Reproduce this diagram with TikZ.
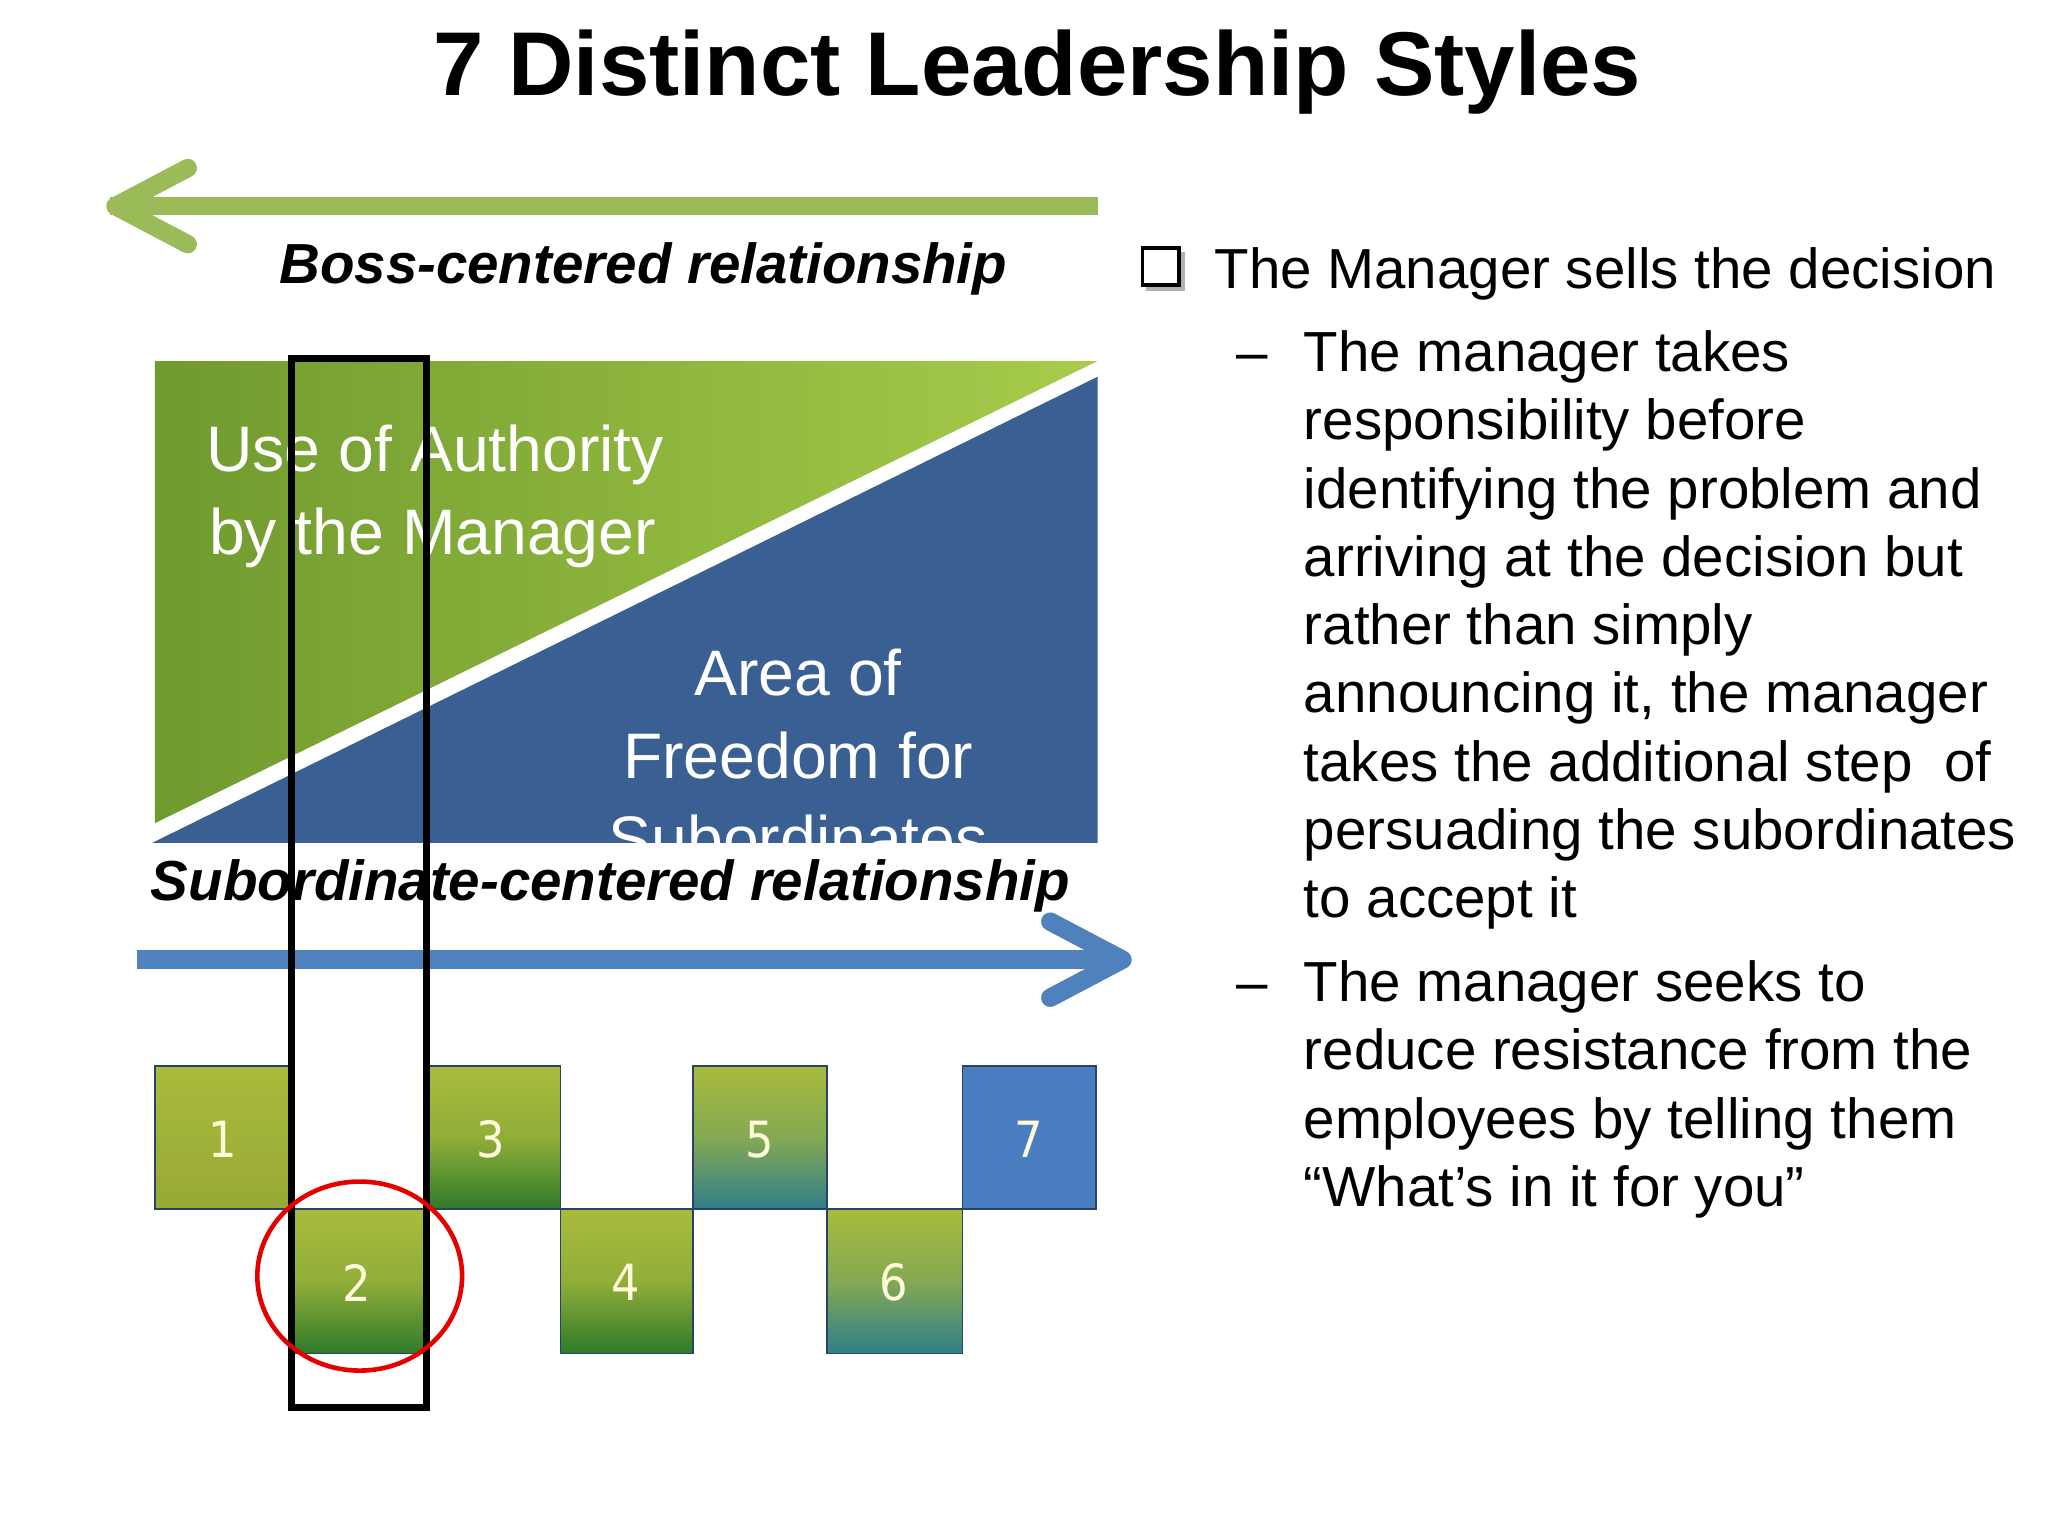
\documentclass[tikz,border=0pt]{standalone}
\usepackage{fontspec}
\setmainfont{Liberation Sans}
\newfontfamily\numfont{DejaVu Sans Condensed}
\definecolor{gdark}{HTML}{6F9A2E}
\definecolor{glight}{HTML}{A8CC4A}
\definecolor{bpanel}{HTML}{3A5F93}
\definecolor{barrow}{HTML}{4F81BD}
\definecolor{garrow}{HTML}{9BBB59}
\definecolor{olive}{HTML}{A9BB3C}
\definecolor{dgreen}{HTML}{2E7A2A}
\definecolor{teal}{HTML}{2F7E8A}
\definecolor{sqblue}{HTML}{4A7CC0}
\tikzset{
 sq/.style={draw=bpanel!70!black, line width=1.2pt},
 num/.style={text=white!85!yellow, font=\numfont\fontsize{38}{38}\selectfont, inner sep=0},
 txt/.style={anchor=base west, inner sep=0, font=\fontsize{43}{52}\selectfont},
 ital/.style={inner sep=0, font=\fontsize{43}{48}\bfseries\itshape\selectfont},
 wtxt/.style={text=white, inner sep=0, font=\fontsize{49}{63}\selectfont}
}
\begin{document}
\begin{tikzpicture}[x=1pt,y=-1pt]
\useasboundingbox (0,0) rectangle (1560,1170);
\node[font=\fontsize{69}{80}\bfseries\selectfont] (title) at (790,55) {7 Distinct Leadership Styles};
% green arrow
\coordinate (ga1) at (836,157); \coordinate (ga2) at (84,157);
\draw[garrow, line width=14pt] (ga1) -- (ga2);
\draw[garrow, line width=14pt, line cap=round, line join=round] (143,128) -- (88,157) -- (143,186);
\node[ital] (boss) at (490,205) {Boss-centered relationship};
% panel
\fill[bpanel] (836,287) -- (836,642) -- (116,642) -- cycle;
\shade[left color=gdark, right color=glight] (118,275) -- (836,275) -- (118,627) -- cycle;
\node[wtxt, anchor=base west] (auth1) at (157,359) {Use of Authority};
\node[wtxt, anchor=base west] (auth2) at (159,422) {by the Manager};
\begin{scope}
\clip (118,275) rectangle (836,642);
\node[wtxt, anchor=base] (area1) at (608,530) {Area of};
\node[wtxt, anchor=base] (area2) at (608,593) {Freedom for};
\node[wtxt, anchor=base] (area3) at (608,656) {Subordinates};
\end{scope}
\node[ital] (sub) at (465,675) {Subordinate-centered relationship};
% blue arrow
\coordinate (ba1) at (104,731); \coordinate (ba2) at (855,731);
\draw[barrow, line width=14pt] (ba1) -- (ba2);
\draw[barrow, line width=14pt, line cap=round, line join=round] (800,702) -- (855,731) -- (800,760);
% squares
\shade[sq, top color=olive, bottom color=olive!90!black] (118,812) rectangle (220,921);
\node[num] (n1) at (170,868) {1};
\shade[sq, top color=olive, bottom color=dgreen, middle color=olive!80!dgreen] (220,921) rectangle (325,1031);
\node[num] (n2) at (272,977) {2};
\shade[sq, top color=olive, bottom color=dgreen, middle color=olive!80!dgreen] (325,812) rectangle (427,921);
\node[num] (n3) at (374,868) {3};
\shade[sq, top color=olive, bottom color=dgreen, middle color=olive!80!dgreen] (427,921) rectangle (528,1031);
\node[num] (n4) at (477,977) {4};
\shade[sq, top color=olive, bottom color=teal, middle color=olive!70!teal] (528,812) rectangle (630,921);
\node[num] (n5) at (579,868) {5};
\shade[sq, top color=olive, bottom color=teal, middle color=olive!70!teal] (630,921) rectangle (733,1031);
\node[num] (n6) at (681,977) {6};
\fill[sq, fill=sqblue] (733,812) rectangle (835,921);
\node[num] (n7) at (784,868) {7};
% highlight
\draw[black, line width=5pt] (222,273) rectangle (325,1072);
\draw[red!90!black, line width=3.5pt] (274,972) ellipse (78 and 72);
% right text
\fill[gray!60] (873,192) rectangle (903,222);
\draw[fill=white, line width=2.5pt] (870,189) rectangle (898,217);
\node[txt] (h) at (925,220) {The Manager sells the decision};
\node[txt] (d1) at (942,283) {–};
\foreach \l [count=\i] in {The manager takes,responsibility before,identifying the problem and,arriving at the decision but,rather than simply,{announcing it, the manager},takes the additional step\ \ of,persuading the subordinates,to accept it}
  \node[txt] (ta\i) at (993,231+52*\i) {\l};
\node[txt] (d2) at (942,763) {–};
\foreach \l [count=\i] in {The manager seeks to,reduce resistance from the,employees by telling them,“What’s in it for you”}
  \node[txt] (tb\i) at (993,711+52*\i) {\l};
\end{tikzpicture}
\end{document}
